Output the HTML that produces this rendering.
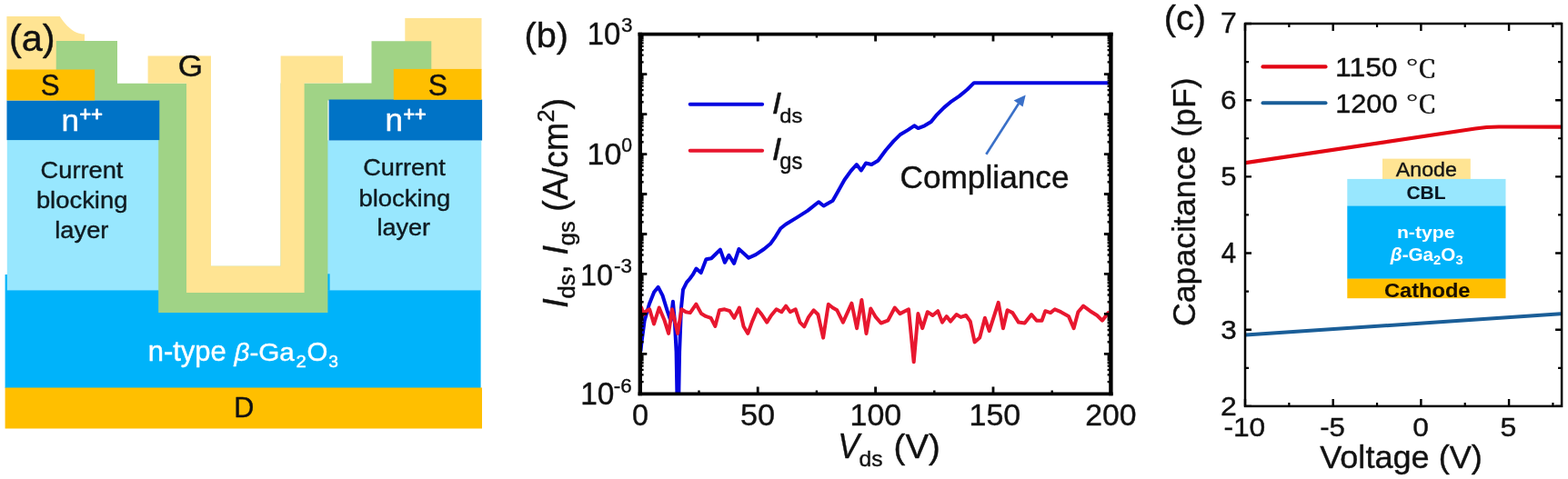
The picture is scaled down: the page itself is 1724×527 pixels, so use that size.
<!DOCTYPE html>
<html><head><meta charset="utf-8"><title>figure</title>
<style>html,body{margin:0;padding:0;background:#fff;overflow:hidden}svg{display:block}</style>
</head><body>
<svg width="1724" height="527" viewBox="0 0 1724 527">
<rect width="1724" height="527" fill="#fff"/>
<g id="pa">
<rect x="5.6" y="302" width="523" height="125" fill="#00B3FA"/>
<rect x="5.6" y="426.5" width="524.4" height="45" fill="#FFBF00"/>
<rect x="7.8" y="154" width="167.5" height="165.4" fill="#98E7FE"/>
<rect x="360" y="154.4" width="169.3" height="165" fill="#98E7FE"/>
<rect x="360" y="301.3" width="2.6" height="18.5" fill="#00B3FA"/>
<path d="M7.4,18 H65.8 C70.5,25.5 77,32.5 83.5,35.4 C87,36.8 90,37.3 93,37.6 V77 H7.4 Z" fill="#FFE493"/>
<rect x="445.3" y="19.9" width="84.2" height="57" fill="#FFE493"/>
<path d="M61.8,45 H129 V91.7 H232 V292.8 H308.6 V91.5 H408.5 V45.3 H474.3 V110.5 H360.4 V344 H174.2 V110.5 H61.6 Z" fill="#A0D386"/>
<path d="M162.6,61.6 H232 V292.8 H308.6 V61.6 H377 V91.5 H334.6 V322 H205 V91.7 H162.6 Z" fill="#FFE493"/>
<rect x="7.5" y="110.5" width="167.8" height="43.6" fill="#0073C6"/>
<rect x="361.6" y="109.5" width="168.5" height="45" fill="#0073C6"/>
<rect x="7.4" y="76.5" width="96.8" height="34" fill="#FFBF00"/>
<rect x="432.8" y="75.9" width="96.7" height="33.8" fill="#FFBF00"/>
</g>
<g id="pb">
<polyline points="704.5,386.0 705.4,376.9 708.6,353.0 713.9,334.5 719.2,321.2 723.7,315.9 728.5,325.2 733.8,342.4 737.5,353.0 739.9,331.8 741.8,353.0 743.6,387.5 744.4,433.0 746.3,433.0 747.1,387.5 748.9,339.8 751.0,318.6 755.0,310.6 758.2,307.0 761.6,302.4 765.5,295.6 770.7,300.1 776.4,285.3 782.1,284.2 786.7,279.7 791.9,274.6 796.9,288.8 801.4,280.8 807.1,289.9 812.4,274.0 817.4,278.5 823.1,283.8 831.0,280.1 840.1,274.0 847.0,268.3 852.7,260.3 858.3,251.2 864.0,246.7 876.5,239.1 887.9,231.9 900.0,222.2 905.6,226.5 915.6,220.8 921.3,210.8 928.4,198.0 935.5,188.1 941.8,181.0 946.9,187.5 952.0,179.5 958.3,181.0 965.4,176.7 973.9,165.3 982.4,155.4 989.5,148.3 998.1,143.1 1005.2,138.3 1009.5,141.1 1016.6,138.3 1023.7,134.0 1029.4,126.9 1037.9,118.4 1046.4,111.3 1054.9,105.6 1063.5,98.5 1070.9,91.2 1220.0,91.2" fill="none" stroke="#0505E0" stroke-width="4" stroke-linejoin="round" stroke-linecap="round"/>
<polyline points="705.3,338.5 707.6,346.0 710.4,342.2 714.2,340.3 719.0,356.5 724.7,338.5 730.3,351.7 735.1,366.9 738.9,340.3 741.7,351.7 745.1,366.9 749.3,340.3 754.1,343.2 758.8,344.1 765.4,334.7 771.1,345.1 775.9,347.9 781.6,349.8 786.3,358.9 791.0,341.3 796.7,340.3 802.4,342.2 807.2,349.8 812.9,338.5 817.6,359.3 822.3,366.9 827.1,353.6 832.8,340.3 837.5,346.0 843.2,354.6 848.0,347.0 853.6,340.3 859.3,343.2 864.1,336.6 868.8,343.2 874.7,340.3 879.5,354.6 884.2,359.3 889.0,348.9 894.7,341.3 899.4,346.0 905.1,371.6 910.8,334.7 915.5,338.5 920.3,341.3 926.9,354.6 936.4,333.7 942.1,361.2 947.4,329.9 952.5,366.9 957.3,339.4 962.9,348.9 968.6,355.5 976.2,352.7 983.8,338.5 989.5,345.1 999.0,340.3 1004.7,398.2 1009.4,345.1 1014.2,361.2 1019.8,343.2 1025.5,347.0 1031.2,342.2 1036.0,354.6 1040.7,348.1 1045.0,353.6 1051.6,346.0 1056.4,348.9 1062.1,347.0 1066.8,353.6 1071.6,376.4 1077.2,371.6 1082.9,349.8 1087.7,364.1 1097.7,332.8 1102.9,361.2 1107.6,341.3 1113.3,344.1 1119.9,354.6 1126.6,355.5 1134.1,346.0 1139.8,352.7 1145.5,352.7 1149.3,342.2 1155.0,344.1 1159.8,340.3 1166.4,343.2 1174.9,347.9 1180.6,361.2 1185.4,343.2 1191.1,336.6 1198.6,342.2 1206.2,347.0 1211.9,352.7 1218.6,344.1" fill="none" stroke="#E8172F" stroke-width="4" stroke-linejoin="round" stroke-linecap="round"/>
<line x1="1084.3" y1="169.8" x2="1120" y2="114" stroke="#3A70C8" stroke-width="2.6"/>
<path d="M1127.7,104.5 L1114.6,110.6 L1124.6,117.6 Z" fill="#3A70C8"/>
<line x1="758.7" y1="114.7" x2="838.1" y2="114.7" stroke="#0505E0" stroke-width="4" stroke-linecap="round"/>
<line x1="758.7" y1="165.7" x2="838.1" y2="165.7" stroke="#E8172F" stroke-width="4" stroke-linecap="round"/>
<path d="M703.80,433.4 v-8 M703.80,37.6 v8 M833.20,433.4 v-8 M833.20,37.6 v8 M962.60,433.4 v-8 M962.60,37.6 v8 M1092.00,433.4 v-8 M1092.00,37.6 v8 M1221.40,433.4 v-8 M1221.40,37.6 v8 M703.8,433.40 h7.5 M1221.4,433.40 h-7.5 M703.8,389.42 h7.5 M1221.4,389.42 h-7.5 M703.8,345.44 h7.5 M1221.4,345.44 h-7.5 M703.8,301.47 h7.5 M1221.4,301.47 h-7.5 M703.8,257.49 h7.5 M1221.4,257.49 h-7.5 M703.8,213.51 h7.5 M1221.4,213.51 h-7.5 M703.8,169.53 h7.5 M1221.4,169.53 h-7.5 M703.8,125.56 h7.5 M1221.4,125.56 h-7.5 M703.8,81.58 h7.5 M1221.4,81.58 h-7.5 M703.8,37.60 h7.5 M1221.4,37.60 h-7.5" stroke="#000" stroke-width="2.8" fill="none"/>
<path d="M768.50,433.4 v-4 M768.50,37.6 v4 M897.90,433.4 v-4 M897.90,37.6 v4 M1027.30,433.4 v-4 M1027.30,37.6 v4 M1156.70,433.4 v-4 M1156.70,37.6 v4 M703.8,420.16 h3.8 M1221.4,420.16 h-3.8 M703.8,412.42 h3.8 M1221.4,412.42 h-3.8 M703.8,406.92 h3.8 M1221.4,406.92 h-3.8 M703.8,402.66 h3.8 M1221.4,402.66 h-3.8 M703.8,399.18 h3.8 M1221.4,399.18 h-3.8 M703.8,396.23 h3.8 M1221.4,396.23 h-3.8 M703.8,393.68 h3.8 M1221.4,393.68 h-3.8 M703.8,391.43 h3.8 M1221.4,391.43 h-3.8 M703.8,376.18 h3.8 M1221.4,376.18 h-3.8 M703.8,368.44 h3.8 M1221.4,368.44 h-3.8 M703.8,362.94 h3.8 M1221.4,362.94 h-3.8 M703.8,358.68 h3.8 M1221.4,358.68 h-3.8 M703.8,355.20 h3.8 M1221.4,355.20 h-3.8 M703.8,352.26 h3.8 M1221.4,352.26 h-3.8 M703.8,349.71 h3.8 M1221.4,349.71 h-3.8 M703.8,347.46 h3.8 M1221.4,347.46 h-3.8 M703.8,332.21 h3.8 M1221.4,332.21 h-3.8 M703.8,324.46 h3.8 M1221.4,324.46 h-3.8 M703.8,318.97 h3.8 M1221.4,318.97 h-3.8 M703.8,314.71 h3.8 M1221.4,314.71 h-3.8 M703.8,311.22 h3.8 M1221.4,311.22 h-3.8 M703.8,308.28 h3.8 M1221.4,308.28 h-3.8 M703.8,305.73 h3.8 M1221.4,305.73 h-3.8 M703.8,303.48 h3.8 M1221.4,303.48 h-3.8 M703.8,288.23 h3.8 M1221.4,288.23 h-3.8 M703.8,280.48 h3.8 M1221.4,280.48 h-3.8 M703.8,274.99 h3.8 M1221.4,274.99 h-3.8 M703.8,270.73 h3.8 M1221.4,270.73 h-3.8 M703.8,267.25 h3.8 M1221.4,267.25 h-3.8 M703.8,264.30 h3.8 M1221.4,264.30 h-3.8 M703.8,261.75 h3.8 M1221.4,261.75 h-3.8 M703.8,259.50 h3.8 M1221.4,259.50 h-3.8 M703.8,244.25 h3.8 M1221.4,244.25 h-3.8 M703.8,236.51 h3.8 M1221.4,236.51 h-3.8 M703.8,231.01 h3.8 M1221.4,231.01 h-3.8 M703.8,226.75 h3.8 M1221.4,226.75 h-3.8 M703.8,223.27 h3.8 M1221.4,223.27 h-3.8 M703.8,220.32 h3.8 M1221.4,220.32 h-3.8 M703.8,217.77 h3.8 M1221.4,217.77 h-3.8 M703.8,215.52 h3.8 M1221.4,215.52 h-3.8 M703.8,200.27 h3.8 M1221.4,200.27 h-3.8 M703.8,192.53 h3.8 M1221.4,192.53 h-3.8 M703.8,187.03 h3.8 M1221.4,187.03 h-3.8 M703.8,182.77 h3.8 M1221.4,182.77 h-3.8 M703.8,179.29 h3.8 M1221.4,179.29 h-3.8 M703.8,176.35 h3.8 M1221.4,176.35 h-3.8 M703.8,173.80 h3.8 M1221.4,173.80 h-3.8 M703.8,171.55 h3.8 M1221.4,171.55 h-3.8 M703.8,156.29 h3.8 M1221.4,156.29 h-3.8 M703.8,148.55 h3.8 M1221.4,148.55 h-3.8 M703.8,143.06 h3.8 M1221.4,143.06 h-3.8 M703.8,138.79 h3.8 M1221.4,138.79 h-3.8 M703.8,135.31 h3.8 M1221.4,135.31 h-3.8 M703.8,132.37 h3.8 M1221.4,132.37 h-3.8 M703.8,129.82 h3.8 M1221.4,129.82 h-3.8 M703.8,127.57 h3.8 M1221.4,127.57 h-3.8 M703.8,112.32 h3.8 M1221.4,112.32 h-3.8 M703.8,104.57 h3.8 M1221.4,104.57 h-3.8 M703.8,99.08 h3.8 M1221.4,99.08 h-3.8 M703.8,94.82 h3.8 M1221.4,94.82 h-3.8 M703.8,91.33 h3.8 M1221.4,91.33 h-3.8 M703.8,88.39 h3.8 M1221.4,88.39 h-3.8 M703.8,85.84 h3.8 M1221.4,85.84 h-3.8 M703.8,83.59 h3.8 M1221.4,83.59 h-3.8 M703.8,68.34 h3.8 M1221.4,68.34 h-3.8 M703.8,60.60 h3.8 M1221.4,60.60 h-3.8 M703.8,55.10 h3.8 M1221.4,55.10 h-3.8 M703.8,50.84 h3.8 M1221.4,50.84 h-3.8 M703.8,47.36 h3.8 M1221.4,47.36 h-3.8 M703.8,44.41 h3.8 M1221.4,44.41 h-3.8 M703.8,41.86 h3.8 M1221.4,41.86 h-3.8 M703.8,39.61 h3.8 M1221.4,39.61 h-3.8" stroke="#000" stroke-width="2.4" fill="none"/>
<path d="M701.5999999999999,37.6 H1223.6000000000001 M701.5999999999999,433.4 H1223.6000000000001" stroke="#000" stroke-width="3.6" fill="none"/>
<path d="M703.8,35.800000000000004 V435.2 M1221.4,35.800000000000004 V435.2" stroke="#000" stroke-width="4.4" fill="none"/>
</g>
<g id="pc">
<rect x="1520" y="174.6" width="96.8" height="22.4" fill="#FFE493"/>
<rect x="1481.3" y="196.9" width="174.2" height="29.7" fill="#98E7FE"/>
<rect x="1481.3" y="226.5" width="174.2" height="80.3" fill="#00B3FA"/>
<rect x="1481.3" y="306.7" width="174.2" height="21.5" fill="#FFBF00"/>
<path d="M1369.5,179.1 L1622,141.5 Q1634,139.6 1648,139.5 L1716,139.6" fill="none" stroke="#E30613" stroke-width="4.2" stroke-linejoin="round"/>
<line x1="1369.5" y1="368.6" x2="1716" y2="345.3" stroke="#1A5E98" stroke-width="4"/>
<line x1="1388.5" y1="73.4" x2="1457.5" y2="73.4" stroke="#E30613" stroke-width="4.2" stroke-linecap="round"/>
<line x1="1388.5" y1="113.2" x2="1457.5" y2="113.2" stroke="#1A5E98" stroke-width="4" stroke-linecap="round"/>
<path d="M1369.00,446.9 v-8 M1369.00,26.0 v8 M1465.69,446.9 v-8 M1465.69,26.0 v8 M1562.39,446.9 v-8 M1562.39,26.0 v8 M1659.08,446.9 v-8 M1659.08,26.0 v8 M1369.0,446.90 h7 M1717.1,446.90 h-7 M1369.0,362.72 h7 M1717.1,362.72 h-7 M1369.0,278.54 h7 M1717.1,278.54 h-7 M1369.0,194.36 h7 M1717.1,194.36 h-7 M1369.0,110.18 h7 M1717.1,110.18 h-7 M1369.0,26.00 h7 M1717.1,26.00 h-7" stroke="#000" stroke-width="2.4" fill="none"/>
<path d="M1417.35,446.9 v-4 M1417.35,26.0 v4 M1514.04,446.9 v-4 M1514.04,26.0 v4 M1610.74,446.9 v-4 M1610.74,26.0 v4 M1707.43,446.9 v-4 M1707.43,26.0 v4 M1369.0,404.81 h4 M1717.1,404.81 h-4 M1369.0,320.63 h4 M1717.1,320.63 h-4 M1369.0,236.45 h4 M1717.1,236.45 h-4 M1369.0,152.27 h4 M1717.1,152.27 h-4 M1369.0,68.09 h4 M1717.1,68.09 h-4" stroke="#000" stroke-width="2.2" fill="none"/>
<rect x="1369.0" y="26.0" width="348.1" height="420.9" fill="none" stroke="#000" stroke-width="2.5"/>
</g>
<g font-family='"Liberation Sans", Arial, sans-serif'>
<text transform="matrix(1.0613,0,0,1.0204,9.91,55.58)" font-size="39" fill="#111" stroke="#111" stroke-width="0.4" stroke-linejoin="round">(a)</text>
<text transform="matrix(0.9789,0,0,1.0304,44.68,105.18)" font-size="32" fill="#111" stroke="#111" stroke-width="0.4" stroke-linejoin="round">S</text>
<text transform="matrix(1.0000,0,0,1.0348,470.65,104.98)" font-size="32" fill="#111" stroke="#111" stroke-width="0.4" stroke-linejoin="round">S</text>
<text transform="matrix(1.0977,0,0,1.0391,195.73,83.98)" font-size="32" fill="#111" stroke="#111" stroke-width="0.4" stroke-linejoin="round">G</text>
<text transform="matrix(1.0192,0,0,1.0286,257.31,458.94)" font-size="30" fill="#111" stroke="#111" stroke-width="0.4" stroke-linejoin="round">D</text>
<text transform="matrix(1.0065,0,0,0.9714,67.49,143.66)" font-size="35" fill="#fff" stroke="#fff" stroke-width="0.4" stroke-linejoin="round">n</text>
<text transform="matrix(1.0800,0,0,1.0791,87.56,132.85)" font-size="20" fill="#fff" stroke="#fff" stroke-width="0.9" stroke-linejoin="round">++</text>
<text transform="matrix(1.0000,0,0,0.9818,423.40,143.95)" font-size="35" fill="#fff" stroke="#fff" stroke-width="0.4" stroke-linejoin="round">n</text>
<text transform="matrix(1.0756,0,0,1.0791,443.46,133.15)" font-size="20" fill="#fff" stroke="#fff" stroke-width="0.9" stroke-linejoin="round">++</text>
<text transform="matrix(1.0090,0,0,0.9744,44.59,196.11)" font-size="27" fill="#0f1a20" stroke="#0f1a20" stroke-width="0.4" stroke-linejoin="round">Current</text>
<text transform="matrix(1.0156,0,0,0.9765,39.88,228.59)" font-size="27" fill="#0f1a20" stroke="#0f1a20" stroke-width="0.4" stroke-linejoin="round">blocking</text>
<text transform="matrix(1.0115,0,0,0.9843,60.28,261.94)" font-size="27" fill="#0f1a20" stroke="#0f1a20" stroke-width="0.4" stroke-linejoin="round">layer</text>
<text transform="matrix(1.0067,0,0,0.9487,399.19,193.43)" font-size="27" fill="#0f1a20" stroke="#0f1a20" stroke-width="0.4" stroke-linejoin="round">Current</text>
<text transform="matrix(1.0167,0,0,0.9490,394.48,226.54)" font-size="27" fill="#0f1a20" stroke="#0f1a20" stroke-width="0.4" stroke-linejoin="round">blocking</text>
<text transform="matrix(1.0009,0,0,0.9451,414.50,259.27)" font-size="27" fill="#0f1a20" stroke="#0f1a20" stroke-width="0.4" stroke-linejoin="round">layer</text>
<text transform="matrix(1.0311,0,0,1.0400,162.70,396.64)" font-size="30" fill="#fff" stroke="#fff" stroke-width="0.4" stroke-linejoin="round">n-type</text>
<text transform="matrix(1.0234,0,0,0.9418,257.42,396.81)" font-size="29" fill="#fff" stroke="#fff" stroke-width="0.4" stroke-linejoin="round"><tspan font-style="italic">β</tspan>-Ga</text>
<text transform="matrix(1.1294,0,0,1.0000,325.45,403.55)" font-size="18" fill="#fff" stroke="#fff" stroke-width="0.4" stroke-linejoin="round">2</text>
<text transform="matrix(1.0146,0,0,1.0238,337.59,397.09)" font-size="29" fill="#fff" stroke="#fff" stroke-width="0.4" stroke-linejoin="round">O</text>
<text transform="matrix(1.0667,0,0,1.0340,361.27,403.58)" font-size="18" fill="#fff" stroke="#fff" stroke-width="0.4" stroke-linejoin="round">3</text>
<text transform="matrix(1.0150,0,0,0.9932,576.62,51.61)" font-size="39" fill="#111" stroke="#111" stroke-width="0.4" stroke-linejoin="round">(b)</text>
<text transform="matrix(0.9681,0,0,1.0041,645.82,49.40)" font-size="34" fill="#111" stroke="#111" stroke-width="0.4" stroke-linejoin="round">10</text>
<text transform="matrix(0.9778,0,0,0.9731,682.97,35.01)" font-size="23" fill="#111" stroke="#111" stroke-width="0.4" stroke-linejoin="round">3</text>
<text transform="matrix(1.0029,0,0,0.9918,645.54,181.00)" font-size="34" fill="#111" stroke="#111" stroke-width="0.4" stroke-linejoin="round">10</text>
<text transform="matrix(0.9217,0,0,0.9731,683.21,167.31)" font-size="23" fill="#111" stroke="#111" stroke-width="0.4" stroke-linejoin="round">0</text>
<text transform="matrix(0.9536,0,0,0.9959,638.05,313.70)" font-size="34" fill="#111" stroke="#111" stroke-width="0.4" stroke-linejoin="round">10</text>
<text transform="matrix(0.9737,0,0,0.9970,674.97,300.00)" font-size="23" fill="#111" stroke="#111" stroke-width="0.4" stroke-linejoin="round">-3</text>
<text transform="matrix(0.9826,0,0,1.0163,638.29,445.49)" font-size="34" fill="#111" stroke="#111" stroke-width="0.4" stroke-linejoin="round">10</text>
<text transform="matrix(0.9737,0,0,0.9970,674.87,431.70)" font-size="23" fill="#111" stroke="#111" stroke-width="0.4" stroke-linejoin="round">-6</text>
<text transform="matrix(0.9552,0,0,0.9959,695.04,467.90)" font-size="34" fill="#111" stroke="#111" stroke-width="0.4" stroke-linejoin="round">0</text>
<text transform="matrix(1.0085,0,0,0.9959,814.04,467.90)" font-size="34" fill="#111" stroke="#111" stroke-width="0.4" stroke-linejoin="round">50</text>
<text transform="matrix(1.0000,0,0,0.9959,934.55,467.90)" font-size="34" fill="#111" stroke="#111" stroke-width="0.4" stroke-linejoin="round">100</text>
<text transform="matrix(1.0000,0,0,0.9959,1065.55,467.90)" font-size="34" fill="#111" stroke="#111" stroke-width="0.4" stroke-linejoin="round">150</text>
<text transform="matrix(0.9917,0,0,0.9959,1193.31,467.90)" font-size="34" fill="#111" stroke="#111" stroke-width="0.4" stroke-linejoin="round">200</text>
<text transform="matrix(0.9576,0,0,1.0346,921.13,503.74)" font-size="37" fill="#111" stroke="#111" stroke-width="0.4" stroke-linejoin="round"><tspan font-style="italic">V</tspan></text>
<text transform="matrix(0.9880,0,0,0.9493,944.56,513.13)" font-size="25" fill="#111" stroke="#111" stroke-width="0.4" stroke-linejoin="round">ds</text>
<text transform="matrix(1.0387,0,0,0.9886,982.62,503.79)" font-size="37" fill="#111" stroke="#111" stroke-width="0.4" stroke-linejoin="round">(V)</text>
<text transform="matrix(1.0314,0,0,1.0177,624.08,338.87) rotate(-90)" font-size="37" fill="#111" stroke="#111" stroke-width="0.4" stroke-linejoin="round"><tspan font-style="italic">I</tspan><tspan font-size="25" dy="8">ds</tspan><tspan dy="-8">, </tspan><tspan font-style="italic">I</tspan><tspan font-size="25" dy="8">gs</tspan><tspan dy="-8"> (A/cm</tspan><tspan font-size="25" dy="-15">2</tspan><tspan dy="15">)</tspan></text>
<text transform="matrix(1.1375,0,0,1.0194,848.76,125.05)" font-size="33" fill="#111" stroke="#111" stroke-width="0.4" stroke-linejoin="round"><tspan font-style="italic">I</tspan></text>
<text transform="matrix(0.9875,0,0,0.9500,857.26,135.33)" font-size="24" fill="#111" stroke="#111" stroke-width="0.4" stroke-linejoin="round">ds</text>
<text transform="matrix(1.1375,0,0,1.0581,848.76,176.24)" font-size="33" fill="#111" stroke="#111" stroke-width="0.4" stroke-linejoin="round"><tspan font-style="italic">I</tspan></text>
<text transform="matrix(0.9875,0,0,1.0904,857.26,185.98)" font-size="24" fill="#111" stroke="#111" stroke-width="0.4" stroke-linejoin="round">gs</text>
<text transform="matrix(1.0371,0,0,1.0063,989.44,206.50)" font-size="34" fill="#111" stroke="#111" stroke-width="0.4" stroke-linejoin="round">Compliance</text>
<text transform="matrix(1.0171,0,0,0.9959,1279.81,33.08)" font-size="39" fill="#111" stroke="#111" stroke-width="0.4" stroke-linejoin="round">(c)</text>
<text transform="matrix(1.0483,0,0,0.9931,1341.99,457.35)" font-size="30.5" fill="#111" stroke="#111" stroke-width="0.4" stroke-linejoin="round">2</text>
<text transform="matrix(1.0305,0,0,0.9818,1342.27,372.89)" font-size="30.5" fill="#111" stroke="#111" stroke-width="0.4" stroke-linejoin="round">3</text>
<text transform="matrix(0.9651,0,0,1.0047,1342.82,288.91)" font-size="30.5" fill="#111" stroke="#111" stroke-width="0.4" stroke-linejoin="round">4</text>
<text transform="matrix(1.0133,0,0,0.9931,1342.29,204.44)" font-size="30.5" fill="#111" stroke="#111" stroke-width="0.4" stroke-linejoin="round">5</text>
<text transform="matrix(1.0305,0,0,0.9818,1342.01,120.23)" font-size="30.5" fill="#111" stroke="#111" stroke-width="0.4" stroke-linejoin="round">6</text>
<text transform="matrix(1.0483,0,0,1.0047,1341.99,36.25)" font-size="30.5" fill="#111" stroke="#111" stroke-width="0.4" stroke-linejoin="round">7</text>
<text transform="matrix(1.0246,0,0,0.9333,1345.38,479.83)" font-size="31" fill="#111" stroke="#111" stroke-width="0.4" stroke-linejoin="round">-10</text>
<text transform="matrix(1.0039,0,0,0.9545,1451.20,479.82)" font-size="31" fill="#111" stroke="#111" stroke-width="0.4" stroke-linejoin="round">-5</text>
<text transform="matrix(1.0230,0,0,0.9333,1553.18,479.83)" font-size="31" fill="#111" stroke="#111" stroke-width="0.4" stroke-linejoin="round">0</text>
<text transform="matrix(1.0295,0,0,0.9545,1649.47,479.82)" font-size="31" fill="#111" stroke="#111" stroke-width="0.4" stroke-linejoin="round">5</text>
<text transform="matrix(1.0144,0,0,0.9910,1451.20,515.37)" font-size="35.6" fill="#111" stroke="#111" stroke-width="0.4" stroke-linejoin="round">Voltage (V)</text>
<text transform="matrix(0.9765,0,0,0.9912,1314.13,358.99) rotate(-90)" font-size="36" fill="#111" stroke="#111" stroke-width="0.4" stroke-linejoin="round">Capacitance (pF)</text>
<text transform="matrix(1.0618,0,0,0.9793,1468.08,83.71)" font-size="30" fill="#111" stroke="#111" stroke-width="0.4" stroke-linejoin="round">1150</text>
<text transform="matrix(1.0243,0,0,1.0023,1468.15,123.70)" font-size="30" fill="#111" stroke="#111" stroke-width="0.4" stroke-linejoin="round">1200</text>
<text transform="matrix(1.1686,0,0,0.8842,1545.26,84.54)" font-size="30" fill="#111" stroke="#111" stroke-width="0.4" stroke-linejoin="round" font-family='"Liberation Serif", "Noto Serif CJK SC", serif'>℃</text>
<text transform="matrix(1.1686,0,0,0.8842,1545.26,123.94)" font-size="30" fill="#111" stroke="#111" stroke-width="0.4" stroke-linejoin="round" font-family='"Liberation Serif", "Noto Serif CJK SC", serif'>℃</text>
<text transform="matrix(1.0295,0,0,0.9471,1534.86,193.83)" font-size="22.5" fill="#151515" stroke="#151515" stroke-width="0.4" stroke-linejoin="round">Anode</text>
<text transform="matrix(0.9988,0,0,1.0067,1546.45,219.05)" font-size="21" fill="#0a1622" stroke="#0a1622" stroke-width="0.1" stroke-linejoin="round" font-weight="bold">CBL</text>
<text transform="matrix(1.0082,0,0,0.8877,1535.94,261.61)" font-size="21" fill="#fff" stroke="#fff" stroke-width="0" stroke-linejoin="round" font-weight="bold">n-type</text>
<text transform="matrix(0.9852,0,0,0.9924,1528.79,286.73)" font-size="21" fill="#fff" stroke="#fff" stroke-width="0" stroke-linejoin="round" font-weight="bold"><tspan font-style="italic">β</tspan>-Ga<tspan font-size="15" dy="4">2</tspan><tspan dy="-4">O</tspan><tspan font-size="15" dy="4">3</tspan></text>
<text transform="matrix(1.0520,0,0,0.9672,1521.91,326.86)" font-size="22.5" fill="#1a0f00" stroke="#1a0f00" stroke-width="0.1" stroke-linejoin="round" font-weight="bold">Cathode</text>
</g>
</svg>
</body></html>
